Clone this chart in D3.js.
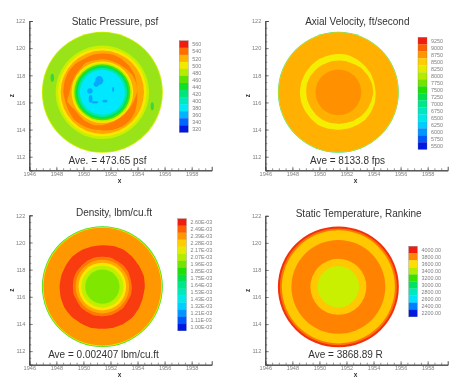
<!DOCTYPE html>
<html><head><meta charset="utf-8">
<script src="https://cdn.jsdelivr.net/npm/d3@7"></script>
<style>
html,body{margin:0;padding:0;background:#fff}
svg{display:block;filter:blur(.55px)}
text{font-family:"Liberation Sans",Arial,sans-serif}
</style></head><body><div id="chart"></div>
<script>
// ---- values ----
const xTicks = [1946,1948,1950,1952,1954,1956,1958];
const zTicks = [112,114,116,118,120,122];
const xMinorTicks = d3.range(1946,1959.5,0.5);
const zMinorTicks = d3.range(111,122.01,0.5);
const centerX = 1951.4, centerZ = 116.75;

const titles = ["Static Pressure, psf","Axial Velocity, ft/second","Density, lbm/cu.ft","Static Temperature, Rankine"];
const averages = ["Ave. = 473.65 psf","Ave = 8133.8 fps","Ave = 0.002407 lbm/cu.ft","Ave = 3868.89 R"];

const pressureLevels = ["560","540","520","500","480","460","440","420","400","380","360","340","320"];
const velocityLevels = ["9250","9000","8750","8500","8250","8000","7750","7500","7250","7000","6750","6500","6250","6000","5750","5500"];
const densityLevels = ["2.60E-03","2.49E-03","2.39E-03","2.28E-03","2.17E-03","2.07E-03","1.96E-03","1.85E-03","1.75E-03","1.64E-03","1.53E-03","1.43E-03","1.32E-03","1.21E-03","1.11E-03","1.00E-03"];
const temperatureLevels = ["4000.00","3800.00","3600.00","3400.00","3200.00","3000.00","2800.00","2600.00","2400.00","2200.00"];
const palette = ["#f01c10","#ff6a00","#ffa800","#ffe600","#c8f000","#88e400","#20e000","#00e050","#00e898","#00e8d0","#00e8ff","#00a8ff","#0060ff","#0018e0"];

// closed contour radii (data units), clockwise from north, largest first
const pressureOrangeOuter = [2.86,2.88,2.84,2.78,2.72,2.62,2.58,2.66,2.8,2.9,2.92,2.88,2.82,2.84,2.86,2.9,2.84,2.82,2.88,2.9,2.92,2.9,2.82,2.86];
const pressureOrangeInner = [2.44,2.42,2.42,2.46,2.56,2.6,2.56,2.42,2.34,2.28,2.3,2.34,2.44,2.5,2.48,2.42,2.44,2.68,2.44,2.36,2.36,2.38,2.5,2.44];
const pressureRings = [
 ["#cdf000",[4.47]],["#98e418",[4.41]],["#c8f000",[3.45]],["#ffe600",[3.26]],["#ffa800",[3.08]],
 ["#ff7a00",pressureOrangeOuter],["#ffa800",pressureOrangeInner],["#ffe600",[2.28]],["#c8f000",[2.18]],
 ["#50e000",[2.07]],["#00e050",[1.95]],["#00e8a0",[1.82]],["#00e8ff",[1.66]]
];
const pressureSpots = [
 [1947.7,117.81,0.13,0.3,"#38d838"],[1955.09,115.72,0.12,0.3,"#38d838"],
 [1951.17,117.62,0.3,0.32,"#08a8ff"],[1950.95,117.35,0.2,0.2,"#08a8ff"],
 [1950.48,116.85,0.2,0.2,"#08a8ff"],[1950.53,116.26,0.14,0.28,"#08a8ff"],
 [1950.85,116.02,0.25,0.09,"#08a8ff"],[1951.59,116.09,0.2,0.1,"#08a8ff"],[1952.2,116.95,0.08,0.18,"#08a8ff"]
];

const velocityYellowOuter = [2.82,2.84,2.8,2.76,2.76,2.74,2.76,2.8,2.82,2.84,2.8,2.78,2.78,2.8,2.84,2.82,2.82,2.84,2.84,2.84,2.82,2.82,2.84,2.82];
const velocityYellowInner = [2.34,2.36,2.38,2.46,2.5,2.56,2.58,2.52,2.48,2.44,2.38,2.34,2.34,2.34,2.34,2.34,2.34,2.36,2.38,2.4,2.38,2.36,2.34,2.34];
const velocityRings = [
 ["#4fd87a",[4.47]],["#d9e820",[4.44]],["#ffb000",[4.41]],
 ["#f6ee00",velocityYellowOuter],["#ffb000",velocityYellowInner],["#ff9000",[1.69]]
];

const densityRedOuter = [3.06,3.1,3.14,3.12,3.12,3.16,3.14,3.1,3.14,3.18,3.16,3.14,3.12,3.16,3.14,3.18,3.2,3.18,3.16,3.14,3.12,3.14,3.1,3.06];
const densityRedInner = [2.2,2.22,2.18,2.2,2.2,2.16,2.18,2.2,2.16,2.2,2.18,2.2,2.2,2.22,2.18,2.2,2.16,2.2,2.18,2.2,2.2,2.18,2.2,2.22];
const densityRings = [
 ["#42e020",[4.47]],["#e8ea00",[4.41]],["#ff9800",[4.35]],
 ["#f83c10",densityRedOuter],["#ff7a00",densityRedInner],["#ffa800",[1.98]],["#ffe600",[1.76]],["#c0f000",[1.56]],["#80e800",[1.27]]
];

const temperatureRings = [
 ["#f03010",[4.47]],["#ff7400",[4.32]],["#ffc800",[4.18]],["#ff8200",[3.47]],["#ffc800",[2.07]],["#c8f000",[1.54]]
];

// ---- layout only ----
const layouts = [
 {x0:29.3,y0:21,yb:170.3,end:211.7,lx:179.3,ly:40.7,lh:91.6,lw:9,tx:115,ty:25,ax:107.5,ay:163.5,labelFs:5.4},
 {x0:265.3,y0:21,yb:170.3,end:447.7,lx:418,ly:37.3,lh:112,lw:9,tx:357.3,ty:24.5,ax:347.5,ay:163.5,labelFs:5.4},
 {x0:29.3,y0:215.3,yb:364.7,end:211.7,lx:177.7,ly:218.7,lh:112,lw:8.7,tx:114,ty:216,ax:103.5,ay:358,labelFs:5.4},
 {x0:265.3,y0:215.8,yb:364.7,end:447.7,lx:408.7,ly:246.3,lh:70.4,lw:8.7,tx:358.7,ty:217,ax:345.5,ay:358,labelFs:5.4}
];
const allLevels = [pressureLevels,velocityLevels,densityLevels,temperatureLevels];
const allRings = [pressureRings,velocityRings,densityRings,temperatureRings];
const allSpots = [pressureSpots,[],[],[]];

const W=474,H=383,unit=13.53;
const svg=d3.select("#chart").append("svg").attr("width",W).attr("height",H).attr("viewBox",[0,0,W,H]);
svg.append("rect").attr("width",W).attr("height",H).attr("fill","#fff");
const axisColor="#4a4a4a", labelColor="#808080";

layouts.forEach((L,i)=>{
  const g=svg.append("g");
  const x=d3.scaleLinear().domain([1946,1946+(L.end-L.x0)/unit]).range([L.x0,L.end]);
  const z=d3.scaleLinear().domain([122,111]).range([L.y0,L.yb]);
  const rad=d3.scaleLinear().domain([0,1]).range([0,unit]);
  const radial=d3.lineRadial().angle((d,k,a)=>k/a.length*2*Math.PI).radius(d=>rad(d)).curve(d3.curveCardinalClosed.tension(.5));
  const disc=g.append("g").attr("transform",`translate(${x(centerX)},${z(centerZ)})`);
  allRings[i].forEach(([c,r])=>{
    if(r.length===1) disc.append("circle").attr("r",rad(r[0])).attr("fill",c);
    else disc.append("path").attr("d",radial(r)).attr("fill",c);
  });
  g.selectAll("ellipse").data(allSpots[i]).join("ellipse")
    .attr("cx",d=>x(d[0])).attr("cy",d=>z(d[1])).attr("rx",d=>rad(d[2])).attr("ry",d=>rad(d[3])).attr("fill",d=>d[4]);

  // axes
  const ax=d3.axisBottom(x).tickValues(xTicks).tickFormat(d3.format("d")).tickSize(-3.5).tickPadding(1.5);
  const axg=g.append("g").attr("transform",`translate(0,${L.yb})`).call(ax);
  const minorX=g.append("g").attr("transform",`translate(0,${L.yb})`).call(d3.axisBottom(x).tickValues(xMinorTicks.filter(v=>x(v)<=L.end)).tickFormat("").tickSize(-2).tickSizeOuter(0));
  const zx=d3.axisLeft(z).tickValues(zTicks).tickFormat(d3.format("d")).tickSize(-3.5).tickPadding(4);
  const azg=g.append("g").attr("transform",`translate(${L.x0},0)`).call(zx);
  const minorZ=g.append("g").attr("transform",`translate(${L.x0},0)`).call(d3.axisLeft(z).tickValues(zMinorTicks).tickFormat("").tickSize(-2).tickSizeOuter(0));
  [axg,azg,minorX,minorZ].forEach(s=>{
    s.selectAll(".domain").attr("stroke",axisColor).attr("stroke-width",1);
    s.selectAll("line").attr("stroke",axisColor).attr("stroke-width",.6);
    s.selectAll("text").attr("fill",labelColor).attr("font-size",5.6).attr("font-family",'"Liberation Sans"');
  });
  g.append("text").attr("x",x(1952.67)).attr("y",L.yb+12.5).attr("text-anchor","middle").attr("font-size",6.5).attr("font-weight","bold").attr("fill","#333").text("x");
  g.append("text").attr("transform",`translate(${L.x0-15},${z(116.5)}) rotate(-90)`).attr("text-anchor","middle").attr("font-size",6.5).attr("font-weight","bold").attr("fill","#333").text("z");

  // titles
  g.append("text").attr("x",L.tx).attr("y",L.ty).attr("text-anchor","middle").attr("font-size",10).attr("fill","#333").text(titles[i]);
  g.append("text").attr("x",L.ax).attr("y",L.ay).attr("text-anchor","middle").attr("font-size",10).attr("fill","#333").text(averages[i]);

  // legend
  const levels=allLevels[i];
  const band=d3.scaleBand().domain(levels).range([L.ly,L.ly+L.lh]);
  const col=d3.scaleLinear().domain(d3.range(palette.length).map(k=>k/(palette.length-1))).range(palette);
  const leg=g.append("g");
  leg.selectAll("rect").data(levels).join("rect")
    .attr("x",L.lx).attr("y",d=>band(d)).attr("width",L.lw).attr("height",band.bandwidth()+.2)
    .attr("fill",(d,k)=>col(k/(levels.length-1)));
  leg.append("rect").attr("x",L.lx).attr("y",L.ly).attr("width",L.lw).attr("height",L.lh).attr("fill","none").attr("stroke","#777").attr("stroke-width",.3);
  leg.selectAll("text").data(levels).join("text")
    .attr("x",L.lx+L.lw+4).attr("y",d=>band(d)+band.bandwidth()/2+2.2)
    .attr("font-size",L.labelFs).attr("fill",labelColor).text(d=>d);
});
</script></body></html>
